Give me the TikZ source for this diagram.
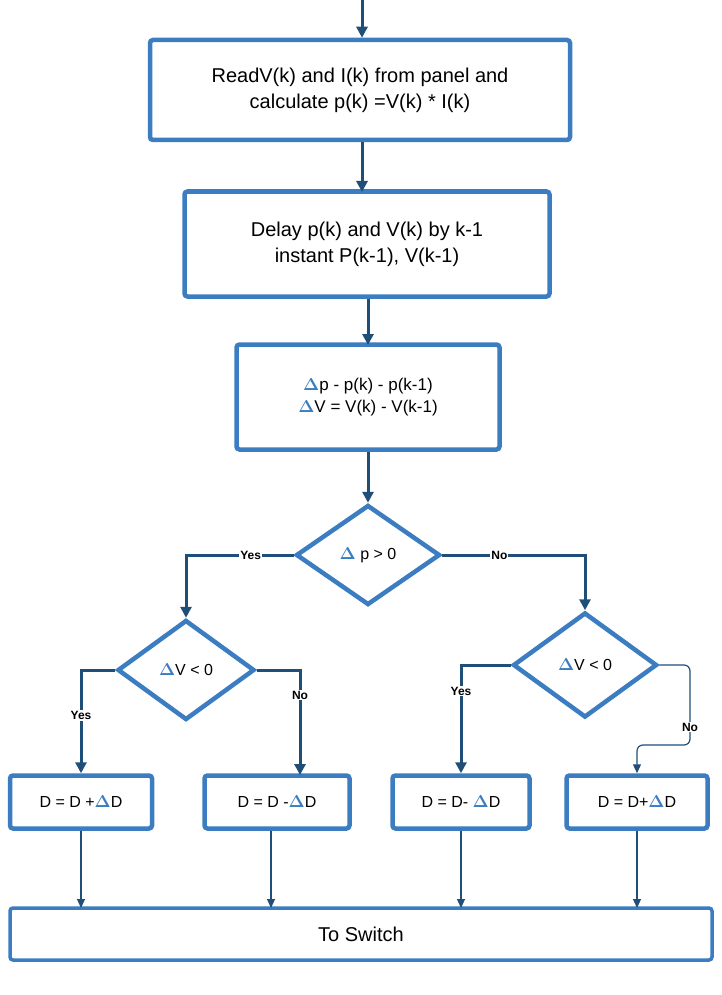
\documentclass[tikz,border=0pt]{standalone}
\usepackage{amsmath}
\usepackage{fontspec}
\setmainfont{Liberation Sans}
\usetikzlibrary{arrows.meta,shapes.geometric}
\definecolor{bb}{HTML}{3B7DC0}
\definecolor{ar}{HTML}{1F4E79}
\newcommand{\dlt}{\textcolor{bb}{\LARGE$\boldsymbol{\Delta}$}}
\begin{document}
\begin{tikzpicture}[x=1pt,y=-1pt,
 box/.style={draw=bb,line width=4.5pt,rounded corners=3pt,align=center,font=\fontsize{20}{26}\selectfont,inner sep=0},
 dia/.style={draw=bb,line width=4.5pt,diamond,inner sep=0,font=\fontsize{16}{18}\selectfont},
 arr/.style={draw=ar,line width=3pt,-{Triangle[length=11pt,width=11pt]}},
 tarr/.style={draw=ar,line width=1.2pt,-{Triangle[length=9pt,width=8pt]}},
 lab/.style={font=\bfseries\fontsize{12}{14}\selectfont,fill=white,inner sep=1pt}]
\useasboundingbox (0,0) rectangle (722,995);
\node[box,minimum width=420,minimum height=100] (b1) at (360,90) {ReadV(k) and I(k) from panel and\\calculate p(k) =V(k) * I(k)};
\node[box,minimum width=365,minimum height=105] (b2) at (367,244) {Delay p(k) and V(k) by k-1\\instant P(k-1), V(k-1)};
\node[box,minimum width=263,minimum height=105,font=\fontsize{17}{22}\selectfont] (b3) at (368,397) {\dlt p - p(k) - p(k-1)\\\dlt V = V(k) - V(k-1)};
\node[dia,minimum width=144,minimum height=100] (d1) at (368,555) {\dlt\ p > 0};
\node[dia,minimum width=137,minimum height=100] (d2) at (186,670) {\dlt V < 0};
\node[dia,minimum width=144,minimum height=105] (d3) at (585,665) {\dlt V < 0};
\tikzset{sb/.style={box,minimum width=#1,minimum height=53,font=\fontsize{16}{18}\selectfont}}
\node[sb=142] (o1) at (81,802) {D = D +\dlt D};
\node[sb=145] (o2) at (277,802) {D = D -\dlt D};
\node[sb=137] (o3) at (461,802) {D = D- \dlt D};
\node[sb=141] (o4) at (637,802) {D = D+\dlt D};
\node[box,line width=3.5pt,minimum width=702,minimum height=52] (sw) at (361,934) {To Switch};
\coordinate (top) at (362,0);
\draw[arr] (top) -- (top |- b1.north);
\draw[arr] (b1.south -| 362,0) -- (362,192);
\draw[arr] (b2.south -| 368,0) -- (368,345);
\draw[arr] (b3.south -| 368,0) -- (d1.north);
\draw[arr] (d1.west) -| (d2.north) node[lab,pos=0.2]{Yes};
\draw[arr] (d1.east) -| (d3.north) node[lab,pos=0.2]{No};
\draw[arr] (d2.west) -| (o1.north) node[lab,pos=0.72]{Yes};
\coordinate (c2) at (300,775);
\draw[arr] (d2.east) -| (c2) node[lab,pos=0.62]{No};
\draw[arr] (d3.west) -| (o3.north) node[lab,pos=0.62]{Yes};
\coordinate (c1) at (690,745);
\draw[tarr,rounded corners=6pt] (d3.east) -| (c1) -| (o4.north);
\node[lab] at (690,727) {No};
\foreach \i/\x in {1/81,2/271,3/461,4/637}{\draw[tarr] (o\i.south -| \x,0) -- (\x,908);}
\end{tikzpicture}
\end{document}
